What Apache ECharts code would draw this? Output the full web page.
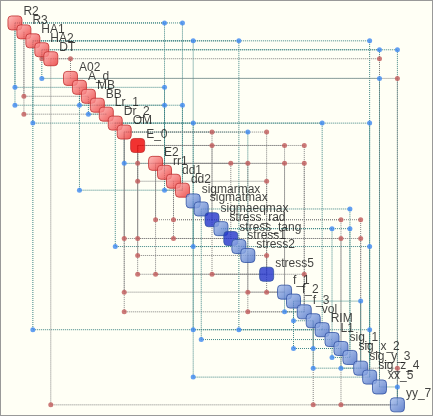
<!DOCTYPE html>
<html>
<head>
<meta charset="utf-8">
<script src="https://cdn.jsdelivr.net/npm/echarts@6/dist/echarts.min.js"></script>
<style>
html,body{margin:0;padding:0;background:#fff;}
#chart{width:431px;height:414px;border:1px solid #999;background:#fffff5;}
</style>
</head>
<body>
<div id="chart"></div>
<script>
var names = ['R2','R3','HA1','HA2','DT','A02','A_d','MB','BB','Lr_1','Dr_2','OM','E_0','E2','rr1','dd1','dd2',
  'sigmarmax','sigmatmax','sigmaeqmax','stress_rad','stress_tang','stress1','stress2','stress5',
  'f_1','f_2','f_3','vol','RIM','L1','sig_1','sig_x_2','sig_y_3','sig_z_4','xx_5','yy_7'];
// grid slot of each element along the diagonal
var slots = [0,1,2,3,4,6.2,7.2,8.2,9.2,10.2,11.2,12.2,13.7,15.7,16.7,17.7,18.7,
  19.9,20.8,22,23,24.1,25,26,28.1,30.1,31.1,32.3,33.3,34.3,35.4,36.4,37.4,38.6,39.6,40.7,42.7];
// group: 0 red, 1 bright red, 2 blue, 3 bright blue
var groups = [0,0,0,0,0,0,0,0,0,0,0,0,1,0,0,0,0,2,2,3,2,3,2,2,3,2,2,2,2,2,2,2,2,2,2,2,2];
// links [row, col, kind] kind: 0 blue, 1 red
var links = [
  [0,14,0],[0,16,0],[2,17,0],[2,22,0],[2,34,0],[3,35,0],[3,36,0],[4,35,1],[5,35,0],[5,36,1],
  [8,16,0],[10,29,0],[10,34,0],[11,19,1],[11,23,0],[11,24,1],[12,19,1],[12,25,1],[12,27,1],
  [13,21,1],[13,23,1],[13,25,1],[13,27,1],[15,24,1],
  [4,3,1],[4,5,1],[5,3,0],[6,0,0],[6,14,0],[7,1,1],[8,0,0],[8,6,0],[8,14,0],[9,1,1],[9,7,0],
  [10,2,0],[10,17,0],[13,11,0],[13,12,1],[15,12,1],[16,6,0],[16,14,0],
  [19,13,1],[19,15,1],[21,11,1],[21,12,1],[21,15,1],[22,10,0],[22,17,0],[23,12,1],
  [24,12,1],[24,13,1],[24,19,1],[25,11,1],[27,11,1],[29,2,0],[29,17,0],[30,18,0],[34,17,0],[36,4,1],
  [18,32,0],[19,31,1],[19,33,1],[20,30,0],[20,32,0],[21,31,1],[21,33,1],[23,24,1],[22,34,0],
  [24,27,1],[25,23,1],[25,24,1],[27,23,1],[27,25,0],[26,33,0],[28,26,0],[29,22,0],[29,34,0],
  [31,26,0],[31,28,0],[32,30,0],[33,28,0],[33,31,0],[33,36,1],[35,36,0],[36,28,1],[36,31,1]
];

var chart = echarts.init(document.getElementById('chart'));
var nodeColors = [
  new echarts.graphic.LinearGradient(0,0,1,1,[{offset:0,color:'#ffb0b0'},{offset:1,color:'#e82a2a'}]),
  '#ee0000',
  new echarts.graphic.LinearGradient(0,0,1,1,[{offset:0,color:'#a8c0ee'},{offset:1,color:'#3f66c4'}]),
  '#2233cc'
];
var nodeData = names.map(function (n, i) {
  return {value: [slots[i], slots[i]], name: n,
    itemStyle: {color: nodeColors[groups[i]], borderColor: groups[i] < 2 ? '#c03030' : '#3050a0', borderWidth: 1}};
});
var lineData = links.map(function (l) {
  var r = slots[l[0]], c = slots[l[1]];
  return {coords: [[r, r], [c, r], [c, c]],
    lineStyle: {color: l[2] ? '#808080' : '#3f8585'}};
});
var dotData = links.map(function (l) {
  return {value: [slots[l[1]], slots[l[0]]], itemStyle: {color: l[2] ? '#c05a5a' : '#3d88f0'}};
});

chart.setOption({
  animation: false,
  grid: {left: 5, top: 13, width: 412, height: 398},
  xAxis: {type: 'value', min: -1, max: 45, show: false},
  yAxis: {type: 'value', min: -1, max: 43.5, inverse: true, show: false},
  series: [
    {type: 'lines', coordinateSystem: 'cartesian2d', polyline: true, data: lineData,
      lineStyle: {width: 1, type: [1, 1], opacity: 1}, silent: true},
    {type: 'scatter', data: dotData, symbolSize: 5, silent: true},
    {type: 'scatter', data: nodeData, symbol: 'roundRect', symbolSize: 14,
      label: {show: true, position: 'right', offset: [-4, -11], formatter: '{b}',
        color: '#111', fontSize: 12, fontFamily: 'Liberation Sans'}}
  ]
});
</script>
</body>
</html>
